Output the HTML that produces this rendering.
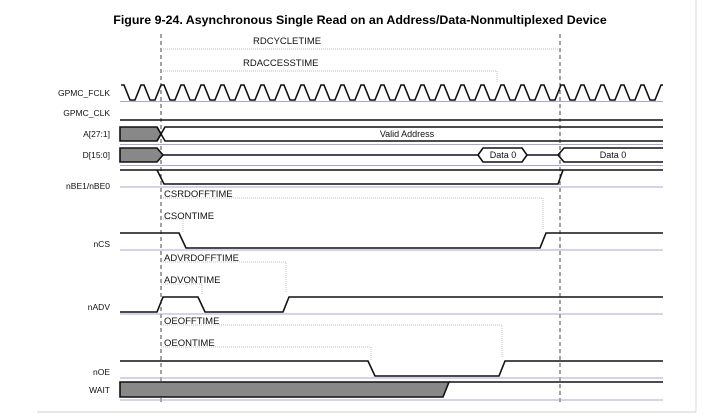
<!DOCTYPE html>
<html><head><meta charset="utf-8"><style>
html,body{margin:0;padding:0;background:#fff;}
svg{display:block;font-family:"Liberation Sans",Arial,sans-serif;}
</style></head><body>
<svg width="719" height="416" viewBox="0 0 719 416" xmlns="http://www.w3.org/2000/svg">
<rect width="719" height="416" fill="#fff"/>
<line x1="696" y1="0" x2="696" y2="412" stroke="#d8d8d8" stroke-width="1"/>
<line x1="37" y1="412" x2="696" y2="412" stroke="#d0d0d0" stroke-width="1"/>
<text x="360" y="24" font-size="12.4" font-weight="bold" text-anchor="middle">Figure 9-24. Asynchronous Single Read on an Address/Data-Nonmultiplexed Device</text>

<g stroke="#444" stroke-width="1" stroke-dasharray="4,3">
<line x1="161" y1="34" x2="161" y2="402"/>
<line x1="560" y1="34" x2="560" y2="402"/>
</g>

<g fill="none" stroke="#aaa" stroke-width="0.7" stroke-dasharray="1,1">
<polyline points="161,49 560,49"/>
<polyline points="161,71 497,71 497,83"/>
<polyline points="161,198 543,198 543,230"/>
<polyline points="161,219 183,219 183,232"/>
<polyline points="161,262 286,262 286,292"/>
<polyline points="161,284 202,284 202,295"/>
<polyline points="161,325 502,325 502,358"/>
<polyline points="161,347 371,347 371,360"/>
</g>

<g font-size="9.5" fill="#111">
<text x="253" y="44">RDCYCLETIME</text>
<text x="243" y="66">RDACCESSTIME</text>
<text x="164" y="197">CSRDOFFTIME</text>
<text x="164" y="219">CSONTIME</text>
<text x="164" y="261">ADVRDOFFTIME</text>
<text x="164" y="283">ADVONTIME</text>
<text x="164" y="324">OEOFFTIME</text>
<text x="164" y="346">OEONTIME</text>
</g>

<g font-size="8.5" fill="#111" text-anchor="end">
<text x="110" y="96">GPMC_FCLK</text>
<text x="110" y="116">GPMC_CLK</text>
<text x="110" y="137">A[27:1]</text>
<text x="110" y="158">D[15:0]</text>
<text x="110" y="189">nBE1/nBE0</text>
<text x="110" y="247">nCS</text>
<text x="110" y="310">nADV</text>
<text x="110" y="375">nOE</text>
<text x="110" y="393">WAIT</text>
</g>

<g stroke="#a8a8d0" stroke-width="1">
<line x1="120" y1="101.5" x2="663" y2="101.5"/>
<line x1="120" y1="144.5" x2="663" y2="144.5"/>
<line x1="120" y1="165.5" x2="663" y2="165.5"/>
<line x1="120" y1="187" x2="663" y2="187"/>
<line x1="120" y1="250" x2="663" y2="250"/>
<line x1="120" y1="314" x2="663" y2="314"/>
<line x1="120" y1="378" x2="663" y2="378"/>
<line x1="120" y1="400" x2="663" y2="400"/>
</g>

<g fill="none" stroke="#111" stroke-width="1.6" stroke-linejoin="miter">
<polyline points="121,85 124,85 130,100 135,100 141,85 144,85 150,100 155,100 161,85 164,85 170,100 175,100 181,85 184,85 190,100 195,100 201,85 204,85 210,100 215,100 221,85 224,85 230,100 235,100 241,85 244,85 250,100 255,100 261,85 264,85 270,100 275,100 281,85 284,85 290,100 295,100 301,85 304,85 310,100 315,100 321,85 324,85 330,100 335,100 341,85 344,85 350,100 355,100 361,85 364,85 370,100 375,100 381,85 384,85 390,100 395,100 401,85 404,85 410,100 415,100 421,85 424,85 430,100 435,100 441,85 444,85 450,100 455,100 461,85 464,85 470,100 475,100 481,85 484,85 490,100 495,100 501,85 504,85 510,100 515,100 521,85 524,85 530,100 535,100 541,85 544,85 550,100 555,100 561,85 564,85 570,100 575,100 581,85 584,85 590,100 595,100 601,85 604,85 610,100 615,100 621,85 624,85 630,100 635,100 641,85 644,85 650,100 655,100 661,85 663,85"/>
<line x1="120" y1="120" x2="663" y2="120"/>
<polygon points="120,127 157,127 161,134 157,141 120,141" fill="#888"/>
<polyline points="157,127 165,141 663,141"/>
<polyline points="157,141 165,127 663,127"/>
<polygon points="120,148 157,148 163,155 157,162 120,162" fill="#888"/>
<line x1="163" y1="155" x2="478" y2="155"/>
<polygon points="478,155 483,148 522,148 527,155 522,162 483,162"/>
<line x1="527" y1="155" x2="558" y2="155"/>
<polyline points="663,148 564,148 558,155 564,162 663,162"/>
<line x1="120" y1="170" x2="663" y2="170"/>
<polyline points="157,170 164,184 558,184 563,170"/>
<polyline points="120,233 179,233 186,248 540,248 546,233 663,233"/>
<polyline points="120,312 157,312 163,297 198,297 205,312 283,312 289,297 663,297"/>
<polyline points="120,361 368,361 375,376 499,376 505,361 663,361"/>
<polygon points="120,382 449,382 443,397 120,397" fill="#888"/>
<line x1="449" y1="382" x2="663" y2="382"/>
</g>
<g font-size="9" fill="#111" text-anchor="middle">
<text x="407" y="137">Valid Address</text>
<text x="503" y="158">Data 0</text>
<text x="613" y="158">Data 0</text>
</g>
</svg>
</body></html>
